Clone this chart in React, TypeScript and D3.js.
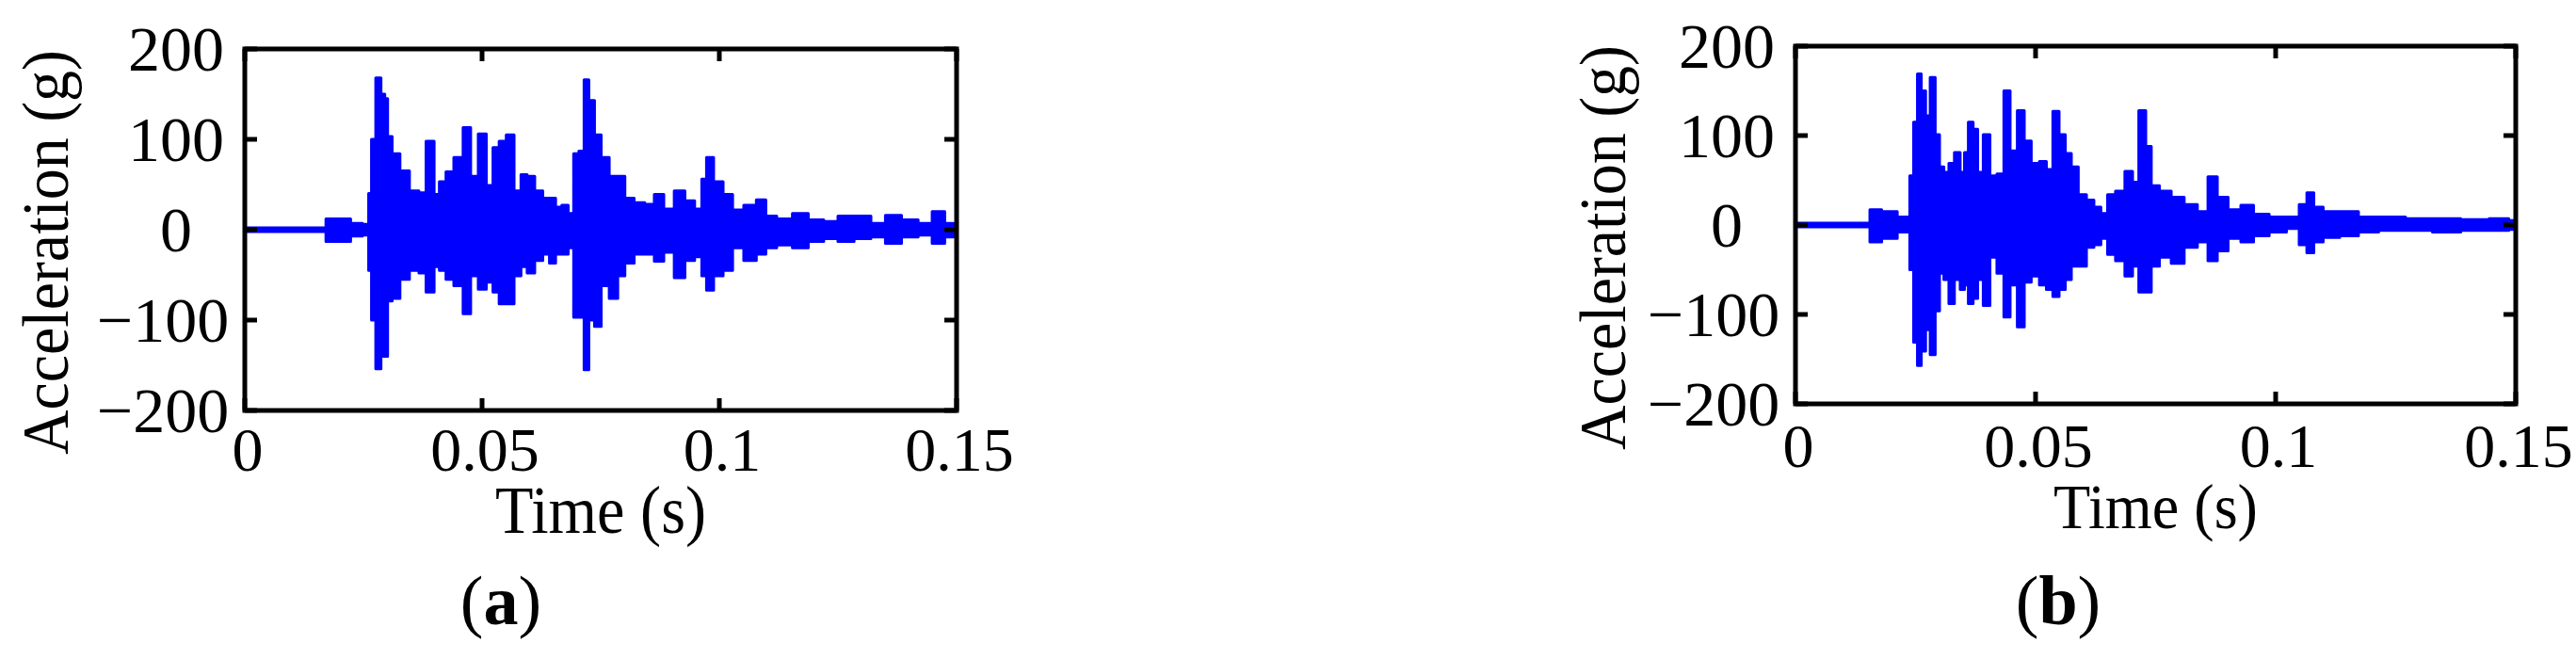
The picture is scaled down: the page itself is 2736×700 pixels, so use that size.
import React from "react";
import * as d3 from "d3";

// ---------- DATA ----------
const xTicks = [0, 0.05, 0.1, 0.15];
const xTickLabels = ["0", "0.05", "0.1", "0.15"];
const yTicks = [-200, -100, 0, 100, 200];
const yTickLabels = ["\u2212200", "\u2212100", "0", "100", "200"];
const xLabel = "Time (s)";
const yLabel = "Acceleration (g)";
const panelTags = ["a", "b"];

// Panel (a): envelope of acceleration signal (time s, upper g, lower g)
const timeA = [0, 0.0169, 0.0173, 0.0208, 0.0238, 0.0258, 0.0264, 0.027, 0.0282, 0.0292, 0.0298, 0.0304, 0.0317, 0.0337, 0.0357, 0.0377, 0.0387, 0.0395, 0.0403, 0.0417, 0.0431, 0.045, 0.047, 0.0482, 0.0502, 0.0516, 0.053, 0.0542, 0.056, 0.0575, 0.0589, 0.0601, 0.0621, 0.0635, 0.0649, 0.0661, 0.0675, 0.0688, 0.0698, 0.071, 0.072, 0.073, 0.0744, 0.0758, 0.0778, 0.0794, 0.0808, 0.0833, 0.0853, 0.0873, 0.0893, 0.0917, 0.0938, 0.0958, 0.0968, 0.0978, 0.0998, 0.1018, 0.1038, 0.1065, 0.1091, 0.1105, 0.1137, 0.1171, 0.1204, 0.1236, 0.1264, 0.1304, 0.1335, 0.1365, 0.1403, 0.1435, 0.1462, 0.1488, 0.15];
const upperA = [2, 2, 12, 12, 7, 6, 40, 100, 168, 150, 145, 103, 84, 65, 43, 41, 98, 98, 39, 53, 64, 80, 113, 59, 106, 49, 91, 98, 105, 43, 61, 59, 43, 35, 35, 25, 27, 18, 84, 87, 166, 143, 105, 80, 59, 59, 35, 30, 28, 39, 23, 43, 32, 23, 56, 80, 53, 39, 22, 27, 33, 15, 12, 18, 11, 9, 15, 15, 7, 16, 11, 7, 20, 7, 5];
const lowerA = [-2, -2, -13, -13, -7, -6, -45, -100, -154, -140, -140, -79, -76, -55, -45, -48, -69, -69, -41, -45, -55, -62, -93, -51, -66, -58, -69, -82, -82, -51, -41, -48, -34, -27, -37, -27, -27, -20, -97, -97, -155, -100, -107, -62, -76, -51, -37, -27, -27, -35, -25, -53, -34, -30, -51, -67, -51, -45, -20, -34, -27, -20, -17, -20, -13, -10, -13, -10, -8, -15, -8, -6, -15, -8, -5];

// Panel (b)
const timeB = [0, 0.0153, 0.0157, 0.0202, 0.0222, 0.0235, 0.0241, 0.0251, 0.0257, 0.0267, 0.0275, 0.0286, 0.0296, 0.0304, 0.0314, 0.0325, 0.0337, 0.0349, 0.0355, 0.0365, 0.0375, 0.0384, 0.0398, 0.0412, 0.0427, 0.0441, 0.0453, 0.0471, 0.0482, 0.05, 0.0516, 0.0529, 0.0543, 0.0555, 0.0569, 0.058, 0.0598, 0.0614, 0.0629, 0.0643, 0.0657, 0.0676, 0.0696, 0.0708, 0.0722, 0.0737, 0.0745, 0.0771, 0.0794, 0.0825, 0.0849, 0.0869, 0.0888, 0.0914, 0.0941, 0.0967, 0.1006, 0.1039, 0.1059, 0.1071, 0.1088, 0.111, 0.1157, 0.1188, 0.1241, 0.13, 0.1353, 0.1418, 0.1471, 0.15];
const upperB = [2, 2, 17, 15, 9, 9, 55, 115, 169, 150, 122, 165, 101, 65, 59, 69, 81, 59, 81, 115, 107, 59, 101, 55, 57, 150, 83, 128, 94, 69, 71, 62, 127, 101, 80, 65, 34, 28, 20, 13, 34, 38, 60, 48, 128, 88, 44, 38, 31, 23, 15, 54, 31, 17, 22, 12, 9, 9, 23, 36, 20, 15, 15, 9, 9, 7, 7, 6, 7, 5];
const lowerB = [-2, -2, -19, -15, -8, -8, -50, -131, -157, -141, -117, -145, -96, -54, -61, -88, -61, -72, -67, -88, -82, -61, -90, -36, -54, -103, -67, -114, -64, -57, -67, -72, -80, -72, -61, -46, -46, -25, -22, -15, -33, -40, -57, -46, -75, -75, -46, -36, -43, -25, -19, -40, -29, -15, -19, -12, -8, -4, -22, -31, -19, -14, -12, -8, -6, -6, -8, -6, -6, -5];

// ---------- LAYOUT ----------
const W = 2736;
const H = 700;
const FONT = "'Liberation Serif', 'Times New Roman', serif";

interface PanelLayout {
  left: number; right: number; top: number; bottom: number;
  yLabelX: number; xLabelBase: number; xLabelSize: number; xLabelLen: number;
  tagX: number; tagBase: number; xTickBase: number;
}

const layouts: PanelLayout[] = [
  { left: 260, right: 1016, top: 52, bottom: 436, yLabelX: 72, xLabelBase: 566, xLabelSize: 72, xLabelLen: 224, tagX: 532, tagBase: 663, xTickBase: 500 },
  { left: 1907, right: 2672, top: 49, bottom: 429, yLabelX: 1726, xLabelBase: 561, xLabelSize: 68, xLabelLen: 217, tagX: 2186, tagBase: 663, xTickBase: 496 },
];

const series = [
  { t: timeA, up: upperA, lo: lowerA },
  { t: timeB, up: upperB, lo: lowerB },
];

function Panel({ idx }: { idx: number }) {
  const L = layouts[idx];
  const s = series[idx];
  const x = d3.scaleLinear().domain([0, 0.15]).range([L.left, L.right]);
  const y = d3.scaleLinear().domain([-200, 200]).range([L.bottom, L.top]);
  const rows = s.t.map((t, i) => ({ t, up: s.up[i], lo: s.lo[i] }));
  const area = d3
    .area<{ t: number; up: number; lo: number }>()
    .x((d) => x(d.t))
    .y0((d) => y(d.lo))
    .y1((d) => y(d.up))
    .curve(d3.curveStep);
  const tickLen = 13;
  const sw = 5;
  const midY = (L.top + L.bottom) / 2;
  const midX = (L.left + L.right) / 2;
  return (
    <g>
      <path d={area(rows) || ""} fill="#0000ff" stroke="#0000ff" strokeWidth={3} strokeLinejoin="round" />
      {/* ticks */}
      {xTicks.map((t, i) => (
        <g key={"xt" + i}>
          <line x1={x(t)} x2={x(t)} y1={L.bottom} y2={L.bottom - tickLen} stroke="#000" strokeWidth={sw} />
          <line x1={x(t)} x2={x(t)} y1={L.top} y2={L.top + tickLen} stroke="#000" strokeWidth={sw} />
          <text x={x(t) + 3} y={L.xTickBase} fontSize={66} textAnchor="middle" fontFamily={FONT} fill="#000">
            {xTickLabels[i]}
          </text>
        </g>
      ))}
      {yTicks.map((v, i) => (
        <g key={"yt" + i}>
          <line x1={L.left} x2={L.left + tickLen} y1={y(v)} y2={y(v)} stroke="#000" strokeWidth={sw} />
          <line x1={L.right} x2={L.right - tickLen} y1={y(v)} y2={y(v)} stroke="#000" strokeWidth={sw} />
          <text
            x={L.left - (v < 0 ? 87 : 73)}
            y={y(v) + 23}
            fontSize={68}
            textAnchor="middle"
            fontFamily={FONT}
            fill="#000"
          >
            {yTickLabels[i]}
          </text>
        </g>
      ))}
      {/* box */}
      <rect x={L.left} y={L.top} width={L.right - L.left} height={L.bottom - L.top} fill="none" stroke="#000" strokeWidth={sw} />
      {/* axis labels */}
      <text
        transform={`translate(${L.yLabelX},${midY + 24}) rotate(-90)`}
        fontSize={70}
        textAnchor="middle"
        fontFamily={FONT}
        textLength={430}
        lengthAdjust="spacingAndGlyphs"
        fill="#000"
      >
        {yLabel}
      </text>
      <text
        x={midX - L.xLabelLen / 2}
        y={L.xLabelBase}
        fontSize={L.xLabelSize}
        fontFamily={FONT}
        textLength={L.xLabelLen}
        lengthAdjust="spacingAndGlyphs"
        fill="#000"
      >
        {xLabel}
      </text>
      <text x={L.tagX} y={L.tagBase} fontSize={74} textAnchor="middle" fontFamily={FONT} fill="#000">
        (<tspan fontWeight="bold">{panelTags[idx]}</tspan>)
      </text>
    </g>
  );
}

export default function App() {
  return (
    <svg width={W} height={H} style={{ position: "absolute", left: 0, top: 0, background: "#fff" }}>
      <rect width={W} height={H} fill="#fff" />
      <Panel idx={0} />
      <Panel idx={1} />
    </svg>
  );
}
